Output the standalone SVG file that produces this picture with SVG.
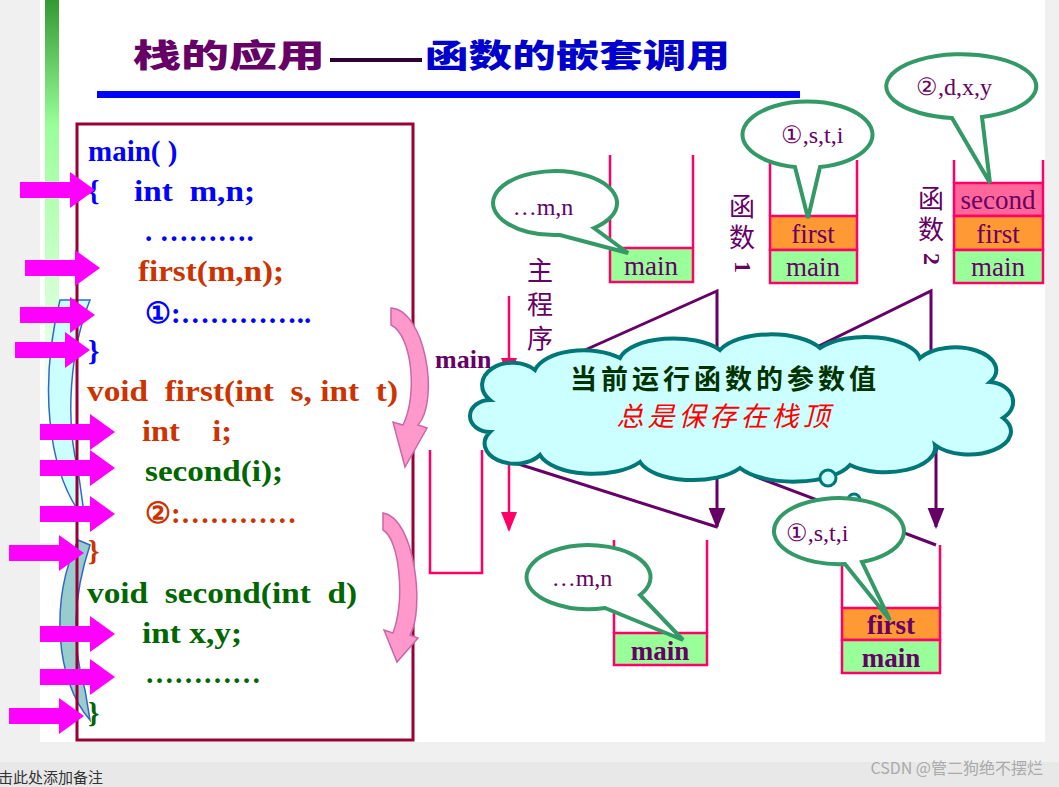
<svg xmlns="http://www.w3.org/2000/svg" width="1059" height="787" viewBox="0 0 1059 787">
<defs>
<linearGradient id="gb" x1="0" y1="0" x2="0" y2="1"><stop offset="0" stop-color="#339933"/><stop offset="0.3" stop-color="#99ff99"/><stop offset="1" stop-color="#ffffff"/></linearGradient>
<marker id="ar" viewBox="0 0 10 10" refX="9" refY="5" markerWidth="8" markerHeight="8" orient="auto"><path d="M0,1 L10,5 L0,9 Z" fill="#ff0066"/></marker>
<marker id="ap" viewBox="0 0 10 10" refX="9" refY="5" markerWidth="7" markerHeight="7" orient="auto"><path d="M0,1 L10,5 L0,9 Z" fill="#660066"/></marker>
<path id="mag" d="M0,-8 L50,-8 L50,-18 L75,0 L50,18 L50,8 L0,8 Z"/>
</defs>
<style>
.code{font-family:"Liberation Serif",serif;font-weight:bold;font-size:29px;white-space:pre}
.bl{fill:#0000ff}.rd{fill:#cc3300}.gr{fill:#006600}
.stk{stroke:#ff0066;stroke-width:2.5;fill:none}
.cm{fill:#99ff99;stroke:#ff0066;stroke-width:2.5}
.cf{fill:#ff9933;stroke:#ff0066;stroke-width:2.5}
.cs{fill:#ff6699;stroke:#ff0066;stroke-width:2.5}
.ct{font-family:"Liberation Serif",serif;font-size:27px;fill:#660066;text-anchor:middle}
.cb{font-weight:bold}
.call{fill:#fff;stroke:#339966;stroke-width:4}
.clt{font-family:"Liberation Serif",serif;font-size:24px;fill:#660066;text-anchor:middle}
.vt{font-family:"Noto Sans CJK SC",serif;font-size:26px;fill:#660066;text-anchor:middle}
.zz{stroke:#660066;stroke-width:3;fill:none}
.ma{fill:#ff00ff}
.pa{fill:#ff99cc;stroke:#cc66aa;stroke-width:1.5}
</style>
<rect width="1059" height="787" fill="#f0f0f0"/>
<rect x="40" y="0" width="1005" height="742" fill="#ffffff"/>
<rect x="45" y="0" width="14" height="420" fill="url(#gb)"/>
<rect x="0" y="762" width="1059" height="25" fill="#e8e8e8"/>
<text x="-2" y="783" font-family="Noto Sans CJK SC,sans-serif" font-size="15" fill="#333">击此处添加备注</text>
<text x="1043" y="774" text-anchor="end" font-family="Noto Sans CJK SC,sans-serif" font-size="16" fill="#aaaaaa">CSDN @管二狗绝不摆烂</text>
<g id="title">
<text x="133" y="67" textLength="192" lengthAdjust="spacingAndGlyphs" font-family="Noto Sans CJK SC,sans-serif" font-weight="900" font-size="32" fill="#660066">栈的应用</text>
<rect x="330" y="58" width="92" height="4" fill="#330033"/>
<text x="425" y="67" textLength="305" lengthAdjust="spacingAndGlyphs" font-family="Noto Sans CJK SC,sans-serif" font-weight="900" font-size="32" fill="#0000cc">函数的嵌套调用</text>
<rect x="97" y="91" width="703" height="7" fill="#0000ff"/>
</g>
<g id="codebox">
<path class="pa" d="M60,300 C40,380 45,470 85,520 L78,470 C65,420 70,350 90,300 Z" style="fill:#ccffff;stroke:#3366cc"/>
<path class="pa" d="M78,540 C50,600 55,680 90,720 L85,690 C70,640 75,590 90,545 Z" style="fill:#99cccc;stroke:#3366cc"/>
<rect x="77" y="124" width="336" height="616" fill="none" stroke="#990033" stroke-width="3"/>
<text class="code bl" x="88" y="161">main( )</text>
<text class="code bl" x="88" y="201">{</text><text class="code bl" x="134" y="201" textLength="121" lengthAdjust="spacingAndGlyphs">int  m,n;</text>
<text class="code bl" x="145" y="241">. ……….</text>
<text class="code rd" x="138" y="281" textLength="146" lengthAdjust="spacingAndGlyphs">first(m,n);</text>
<text class="code bl" x="145" y="323">①:…………..</text>
<text class="code bl" x="88" y="361">}</text>
<text class="code rd" x="87" y="401" textLength="311" lengthAdjust="spacingAndGlyphs">void  first(int  s, int  t)</text>
<text class="code rd" x="88" y="441">{</text><text class="code rd" x="142" y="441" textLength="90" lengthAdjust="spacingAndGlyphs">int    i;</text>
<text class="code gr" x="145" y="481" textLength="138" lengthAdjust="spacingAndGlyphs">second(i);</text>
<text class="code rd" x="145" y="523">②:…………</text>
<text class="code rd" x="88" y="561">}</text>
<text class="code gr" x="87" y="603" textLength="270" lengthAdjust="spacingAndGlyphs">void  second(int  d)</text>
<text class="code gr" x="88" y="643">{</text><text class="code gr" x="142" y="643" textLength="100" lengthAdjust="spacingAndGlyphs">int x,y;</text>
<text class="code gr" x="145" y="683">…………</text>
<text class="code gr" x="88" y="723">}</text>
<use href="#mag" class="ma" x="20" y="190"/>
<use href="#mag" class="ma" x="25" y="268"/>
<use href="#mag" class="ma" x="20" y="315"/>
<use href="#mag" class="ma" x="15" y="350"/>
<use href="#mag" class="ma" x="40" y="432"/>
<use href="#mag" class="ma" x="40" y="468"/>
<use href="#mag" class="ma" x="40" y="514"/>
<use href="#mag" class="ma" x="9" y="553"/>
<use href="#mag" class="ma" x="40" y="634"/>
<use href="#mag" class="ma" x="40" y="677"/>
<use href="#mag" class="ma" x="9" y="716"/>
<path class="pa" d="M391,308 C425,310 440,400 418,425 L427,428 L405,467 L393,422 L403,425 C418,395 412,335 391,325 Z"/>
<path class="pa" d="M383,513 C415,518 425,610 410,635 L418,638 L397,662 L384,630 L393,633 C405,600 400,540 383,530 Z"/>
</g>
<g id="connectors">
<line x1="509" y1="296" x2="509" y2="376" stroke="#ff0066" stroke-width="2.5" marker-end="url(#ar)"/>
<line x1="509" y1="450" x2="509" y2="530" stroke="#ff0066" stroke-width="2.5" marker-end="url(#ar)"/>
<path class="stk" d="M430,450 V573 H482 V450"/>
<path class="zz" d="M509,384 L717,291 V370"/>
<path class="zz" d="M770,370 L931,291 V370"/>
<path class="zz" d="M509,461 L717,527"/>
<line class="zz" x1="717" y1="460" x2="717" y2="527" marker-end="url(#ap)"/>
<path class="zz" d="M754,476 L936,545"/>
<line class="zz" x1="936" y1="440" x2="936" y2="527" marker-end="url(#ap)"/>
<path d="M928,435 L944,435 L936,455 Z" fill="#3333cc"/>
</g>
<text x="435" y="368" font-family="Liberation Serif,serif" font-weight="bold" font-size="26" fill="#660066">main</text>
<g class="vt"><text x="540" y="280">主</text><text x="540" y="314">程</text><text x="540" y="348">序</text></g>
<g class="vt"><text x="742" y="216">函</text><text x="742" y="247">数</text><text x="742" y="274" transform="rotate(90 742 267)" font-family="Liberation Serif,serif" font-weight="bold" font-size="24">1</text></g>
<g class="vt"><text x="931" y="208">函</text><text x="931" y="239">数</text><text x="931" y="266" transform="rotate(90 931 259)" font-family="Liberation Serif,serif" font-weight="bold" font-size="24">2</text></g>
<g id="cloud">
<path d="M490,400 A30,22 0 0 1 535,370 A50,25 0 0 1 620,358 A55,25 0 0 1 720,350 A55,25 0 0 1 820,348 A55,25 0 0 1 920,358 A40,22 0 0 1 990,382 A25,20 0 0 1 1003,418 A40,22 0 0 1 935,445 A50,25 0 0 1 850,465 A60,25 0 0 1 740,468 A55,25 0 0 1 640,462 A55,25 0 0 1 540,455 A30,20 0 0 1 490,432 A20,16 0 0 1 490,400 Z" fill="#ccffff" stroke="#007777" stroke-width="4"/>
<text x="725" y="389" text-anchor="middle" letter-spacing="4" font-family="Noto Sans CJK SC,serif" font-weight="bold" font-size="27" fill="#003300">当前运行函数的参数值</text>
<text x="725" y="426" text-anchor="middle" letter-spacing="4" font-family="Noto Sans CJK SC,serif" font-style="italic" font-size="27" fill="#ff0000">总是保存在栈顶</text>
<circle cx="828" cy="478" r="8" fill="#ccffff" stroke="#007777" stroke-width="3"/>
<circle cx="854" cy="500" r="6" fill="#ccffff" stroke="#007777" stroke-width="3"/>
<circle cx="875" cy="520" r="3" fill="#ccffff" stroke="#007777" stroke-width="2"/>
</g>
<g id="stackA">
<path class="stk" d="M610,155 V248 M693,155 V248"/>
<rect class="cm" x="610" y="248" width="83" height="34"/>
<text class="ct" x="651" y="275">main</text>
</g>
<g id="calloutA"><path class="call" d="M560,235 A62,32 0 1 1 594,228 L628,253 Z"/><text class="clt" x="543" y="215">…m,n</text></g>
<g id="stackB">
<path class="stk" d="M770,160 V216 M857,160 V216"/>
<rect class="cf" x="770" y="216" width="87" height="34"/>
<rect class="cm" x="770" y="250" width="87" height="33"/>
<text class="ct" x="813" y="243">first</text><text class="ct" x="813" y="276">main</text>
</g>
<g id="calloutB"><path class="call" d="M795,167 A65,33 0 1 1 820,167 L808,218 Z"/><text class="clt" x="812" y="143">①,s,t,i</text></g>
<g id="stackC">
<path class="stk" d="M954,160 V183 M1043,160 V183"/>
<rect class="cs" x="954" y="183" width="89" height="33"/>
<rect class="cf" x="954" y="216" width="89" height="34"/>
<rect class="cm" x="954" y="250" width="89" height="33"/>
<text class="ct" x="998" y="209">second</text><text class="ct" x="998" y="243">first</text><text class="ct" x="998" y="276">main</text>
</g>
<g id="calloutC"><path class="call" d="M952,118 A75,32 0 1 1 982,117 L990,183 Z"/><text class="clt" x="954" y="95">②,d,x,y</text></g>
<g id="stackD">
<path class="stk" d="M614,540 V633 M707,540 V633"/>
<rect class="cm" x="614" y="633" width="93" height="32"/>
<text class="ct cb" x="660" y="660">main</text>
</g>
<g id="calloutD"><path class="call" d="M605,608 A62,32 0 1 1 640,595 L683,640 Z"/><text class="clt" x="582" y="586">…m,n</text></g>
<g id="stackE">
<path class="stk" d="M842,545 V608 M940,545 V608"/>
<rect class="cf" x="842" y="608" width="98" height="32"/>
<rect class="cm" x="842" y="640" width="98" height="33"/>
<text class="ct cb" x="891" y="634">first</text><text class="ct cb" x="891" y="667">main</text>
</g>
<g id="calloutE"><path class="call" d="M845,564 A65,33 0 1 1 862,562 L890,620 Z"/><text class="clt" x="817" y="541">①,s,t,i</text></g>
</svg>
